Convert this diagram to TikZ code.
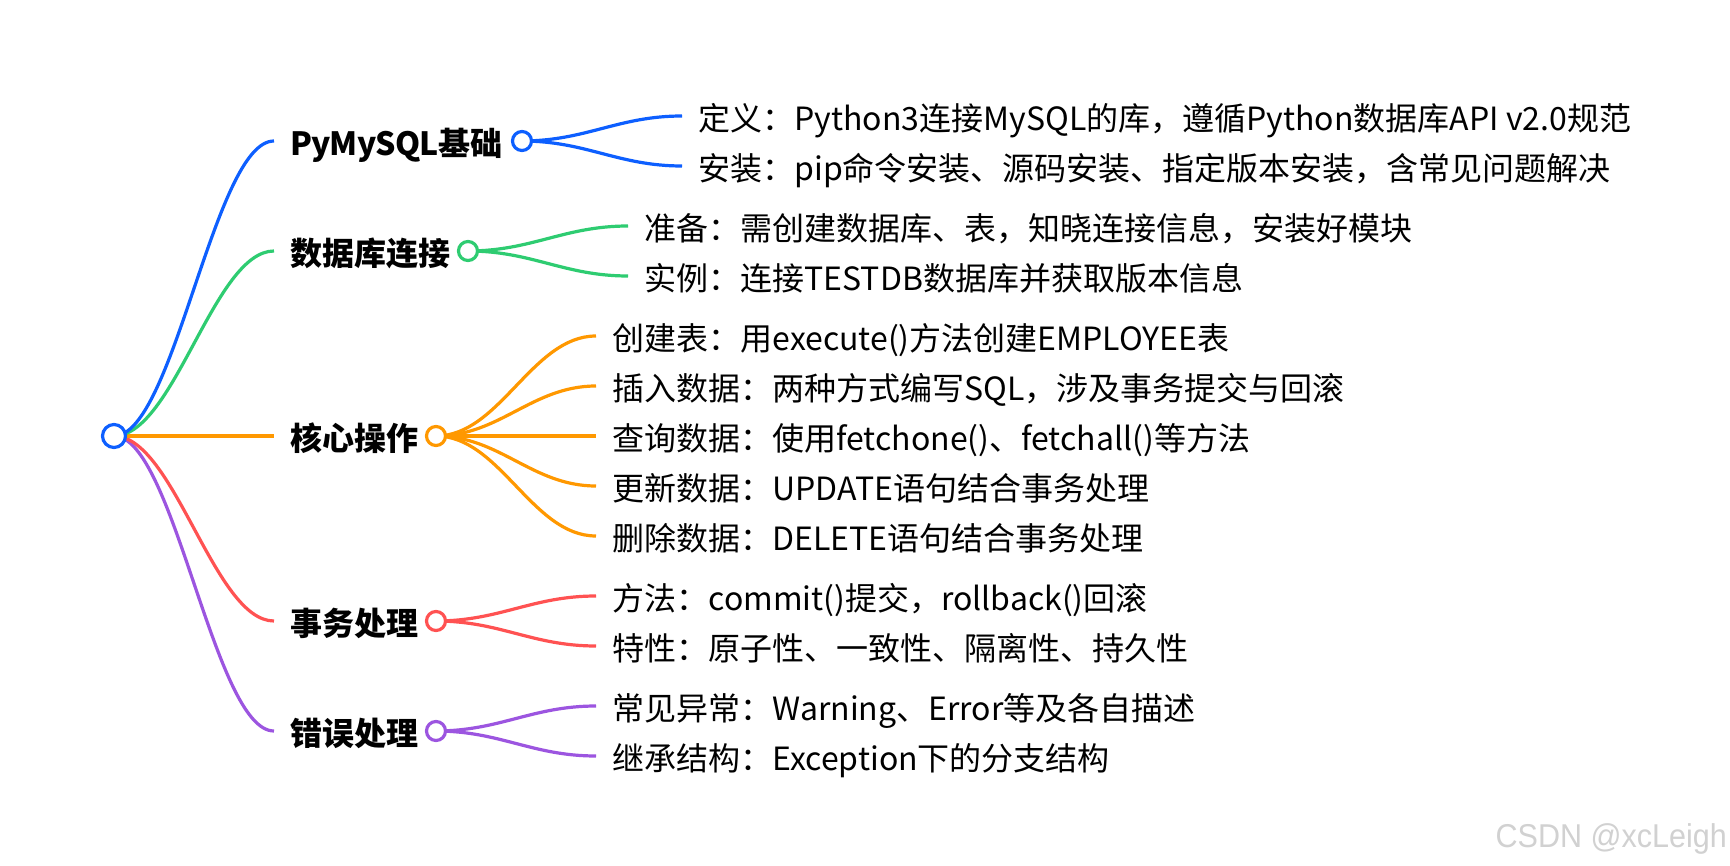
\documentclass[tikz,border=0pt]{standalone}
\usepackage{fontspec}
\setmainfont{Noto Sans CJK SC}
\newfontfamily\wmfont{Liberation Sans}
\definecolor{cblue}{HTML}{0D5FFF}
\definecolor{cgreen}{HTML}{2ECC71}
\definecolor{corange}{HTML}{FF9800}
\definecolor{cred}{HTML}{FF5252}
\definecolor{cpurple}{HTML}{9C55E0}
\pgfdeclarelayer{links}
\pgfsetlayers{links,main}
\tikzset{
  dot/.style={circle,draw=#1,fill=white,line width=3.2pt,inner sep=0pt,minimum size=19pt},
  rootdot/.style={circle,draw=#1,fill=white,line width=3.2pt,inner sep=0pt,minimum size=23pt},
  topic/.style={anchor=west,inner xsep=16pt,inner ysep=0pt,text height=32pt,text depth=3pt,font=\fontsize{32pt}{32pt}\selectfont\bfseries},
  leaf/.style={anchor=west,inner xsep=16.3pt,inner ysep=0pt,text height=32pt,text depth=3pt,font=\fontsize{32pt}{32pt}\selectfont},
  link/.style={line width=3.2pt,draw=#1}
}
\newcommand{\rlink}[2]{\draw[link=#1] (root.center) .. controls +(60,0) and +(-60,0) .. (#2.west);}
\newcommand{\clink}[3]{\draw[link=#1] (#2.center) .. controls +(64,0) and +(-64,0) .. (#3.west);}
\begin{document}
\begin{tikzpicture}[x=1pt,y=-1pt]
\useasboundingbox (0,0) rectangle (1730,866);
\node[rootdot=cblue] (root) at (114,436) {};
% topics
\node[topic] (t1) at (274,141) {{\addfontfeature{LetterSpace=-2.5}PyMySQL}基础};
\node[topic] (t2) at (274,251) {数据库连接};
\node[topic] (t3) at (274,436) {核心操作};
\node[topic] (t4) at (274,621) {事务处理};
\node[topic] (t5) at (274,731) {错误处理};
% leaves
\node[leaf] (a1) at (682,116) {定义：Python3连接MySQL的库，遵循Python数据库API v2.0规范};
\node[leaf] (a2) at (682,166) {安装：pip命令安装、源码安装、指定版本安装，含常见问题解决};
\node[leaf] (b1) at (628,226) {准备：需创建数据库、表，知晓连接信息，安装好模块};
\node[leaf] (b2) at (628,276) {实例：连接TESTDB数据库并获取版本信息};
\node[leaf] (c1) at (596,336) {创建表：用execute()方法创建EMPLOYEE表};
\node[leaf] (c2) at (596,386) {插入数据：两种方式编写SQL，涉及事务提交与回滚};
\node[leaf] (c3) at (596,436) {查询数据：使用fetchone()、fetchall()等方法};
\node[leaf] (c4) at (596,486) {更新数据：UPDATE语句结合事务处理};
\node[leaf] (c5) at (596,536) {删除数据：DELETE语句结合事务处理};
\node[leaf] (d1) at (596,596) {方法：commit()提交，rollback()回滚};
\node[leaf] (d2) at (596,646) {特性：原子性、一致性、隔离性、持久性};
\node[leaf] (e1) at (596,706) {常见异常：Warning、Error等及各自描述};
\node[leaf] (e2) at (596,756) {继承结构：Exception下的分支结构};
% dots
\node[dot=cblue] (p1) at (522,141) {};
\node[dot=cgreen] (p2) at (468,251) {};
\node[dot=corange] (p3) at (436,436) {};
\node[dot=cred] (p4) at (436,621) {};
\node[dot=cpurple] (p5) at (436,731) {};
% connectors, beneath the nodes
\begin{pgfonlayer}{links}
\fill[white] (0,0) rectangle (1730,866);
\clink{cblue}{p1}{a1}\clink{cblue}{p1}{a2}
\clink{cgreen}{p2}{b1}\clink{cgreen}{p2}{b2}
\clink{corange}{p3}{c1}\clink{corange}{p3}{c2}\clink{corange}{p3}{c3}\clink{corange}{p3}{c4}\clink{corange}{p3}{c5}
\clink{cred}{p4}{d1}\clink{cred}{p4}{d2}
\clink{cpurple}{p5}{e1}\clink{cpurple}{p5}{e2}
\rlink{cpurple}{t5}\rlink{cred}{t4}\rlink{corange}{t3}\rlink{cgreen}{t2}\rlink{cblue}{t1}
\end{pgfonlayer}
\node[anchor=east,inner sep=0pt,xscale=0.925,text=black!18,font=\wmfont\fontsize{33pt}{33pt}\selectfont] (wm) at (1727,839) {CSDN @xcLeigh};
\end{tikzpicture}
\end{document}
